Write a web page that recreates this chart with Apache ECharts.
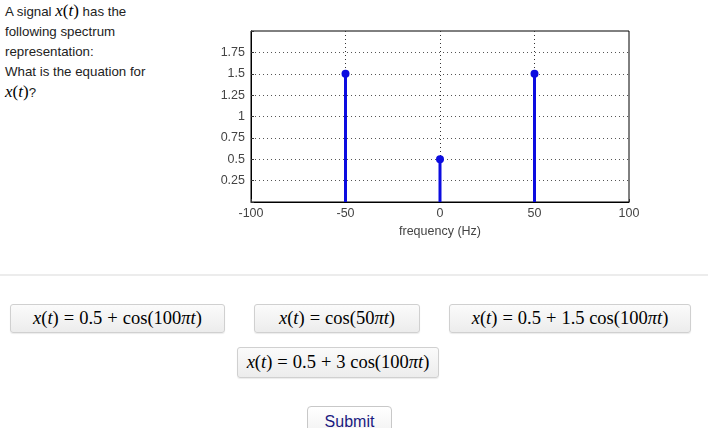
<!DOCTYPE html>
<html>
<head>
<meta charset="utf-8">
<script src="https://cdn.jsdelivr.net/npm/echarts@6/dist/echarts.min.js"></script>
<style>
  html, body { margin: 0; padding: 0; background: #fff; width: 708px; height: 428px; overflow: hidden; }
  body { position: relative; font-family: "Liberation Sans", Arial, sans-serif; }
  #stem { position: absolute; left: 5px; top: 1px; font-size: 13.3px; line-height: 20px; color: #222; }
  .m { font-family: "Liberation Serif", "DejaVu Serif", serif; color: #000; }
  #stem .m { font-size: 17px; }
  .btn.m { font-size: 18.5px; }
  .m i { font-style: italic; }
  .op { margin: 0 5px; }
  #chart { position: absolute; left: 200px; top: 0; width: 460px; height: 250px; }
  #sep { position: absolute; left: 0; top: 274px; width: 708px; height: 0; border-top: 2px solid #ececec; }
  .btn { position: absolute; box-sizing: border-box; border: 1px solid #d0d0d0; border-radius: 3px;
         background: linear-gradient(#fbfbfb, #ececec); box-shadow: 0 1px 1px rgba(0,0,0,0.08);
         display: flex; align-items: center; justify-content: center; white-space: nowrap; }
  #submit { position: absolute; left: 307px; top: 406px; width: 85px; height: 32px; box-sizing: border-box;
            border: 1px solid #c8c8c8; border-radius: 4px; background: linear-gradient(#ffffff, #f0f0f0);
            color: #1a1a80; font-size: 16px; text-align: center; line-height: 30px; }
</style>
</head>
<body>
<div id="stem">A signal <span class="m"><i>x</i>(<i>t</i>)</span> has the<br>following spectrum<br>representation:<br>What is the equation for<br><span class="m"><i>x</i>(<i>t</i>)</span>?</div>
<div id="chart"></div>
<div id="sep"></div>
<div class="btn m" style="left:10px;top:304px;width:215px;height:29px;"><span><i>x</i>(<i>t</i>)<span class="op">=</span>0.5<span class="op">+</span>cos(100<i>πt</i>)</span></div>
<div class="btn m" style="left:254px;top:304px;width:166px;height:29px;"><span><i>x</i>(<i>t</i>)<span class="op">=</span>cos(50<i>πt</i>)</span></div>
<div class="btn m" style="left:449px;top:304px;width:242px;height:29px;"><span><i>x</i>(<i>t</i>)<span class="op">=</span>0.5<span class="op">+</span>1.5 cos(100<i>πt</i>)</span></div>
<div class="btn m" style="left:237px;top:347px;width:202px;height:31px;"><span><i>x</i>(<i>t</i>)<span class="op">=</span>0.5<span class="op">+</span>3 cos(100<i>πt</i>)</span></div>
<div id="submit">Submit</div>
<script>
var frequencies = [-50, 0, 50];
var amplitudes = [1.5, 0.5, 1.5];
var xTickLabels = ['-100', '-50', '0', '50', '100'];
var yTickLabels = ['0.25', '0.5', '0.75', '1', '1.25', '1.5', '1.75'];
var xAxisName = 'frequency (Hz)';

var stemData = frequencies.map(function (f, i) { return [f, amplitudes[i]]; });
var stemColor = '#0c0ce0';
var labelFont = 'Liberation Sans, Arial, sans-serif';

var chart = echarts.init(document.getElementById('chart'), null, { renderer: 'canvas' });
chart.setOption({
  animation: false,
  grid: { left: 51, top: 31, width: 378, height: 171, show: true, borderColor: '#000', borderWidth: 1, backgroundColor: 'transparent' },
  xAxis: {
    type: 'value', min: -100, max: 100, interval: 50,
    name: xAxisName, nameLocation: 'middle', nameGap: 23,
    nameTextStyle: { fontSize: 12.5, color: '#444', fontFamily: labelFont },
    axisLine: { show: true, onZero: false, lineStyle: { color: '#000', width: 1 } },
    axisTick: { show: true, inside: true, length: 3, lineStyle: { color: '#333' } },
    axisLabel: {
      fontSize: 12.5, color: '#444', margin: 5, fontFamily: labelFont,
      formatter: function (v) { var i = xTickLabels.indexOf(String(v)); return i >= 0 ? xTickLabels[i] : ''; }
    },
    splitLine: { show: true, showMinLine: false, showMaxLine: false, lineStyle: { type: [1, 3], color: '#333', width: 1 } }
  },
  yAxis: {
    type: 'value', min: 0, max: 2, interval: 0.25,
    axisLine: { show: true, onZero: false, lineStyle: { color: '#000', width: 1 } },
    axisTick: { show: true, inside: true, length: 3, lineStyle: { color: '#333' } },
    axisLabel: {
      fontSize: 12.5, color: '#444', margin: 6, fontFamily: labelFont,
      formatter: function (v) { var i = yTickLabels.indexOf(String(v)); return i >= 0 ? yTickLabels[i] : ''; }
    },
    splitLine: { show: true, showMinLine: false, showMaxLine: false, lineStyle: { type: [1, 3], color: '#555', width: 1 } }
  },
  series: [{
    type: 'custom',
    data: stemData,
    renderItem: function (params, api) {
      var x = api.value(0), y = api.value(1);
      var p0 = api.coord([x, 0]);
      var p1 = api.coord([x, y]);
      return {
        type: 'group',
        children: [
          { type: 'line', shape: { x1: p0[0], y1: p0[1], x2: p1[0], y2: p1[1] }, style: { stroke: stemColor, lineWidth: 3 } },
          { type: 'circle', shape: { cx: p1[0], cy: p1[1], r: 4 }, style: { fill: stemColor } }
        ]
      };
    }
  }]
});
</script>
</body>
</html>
